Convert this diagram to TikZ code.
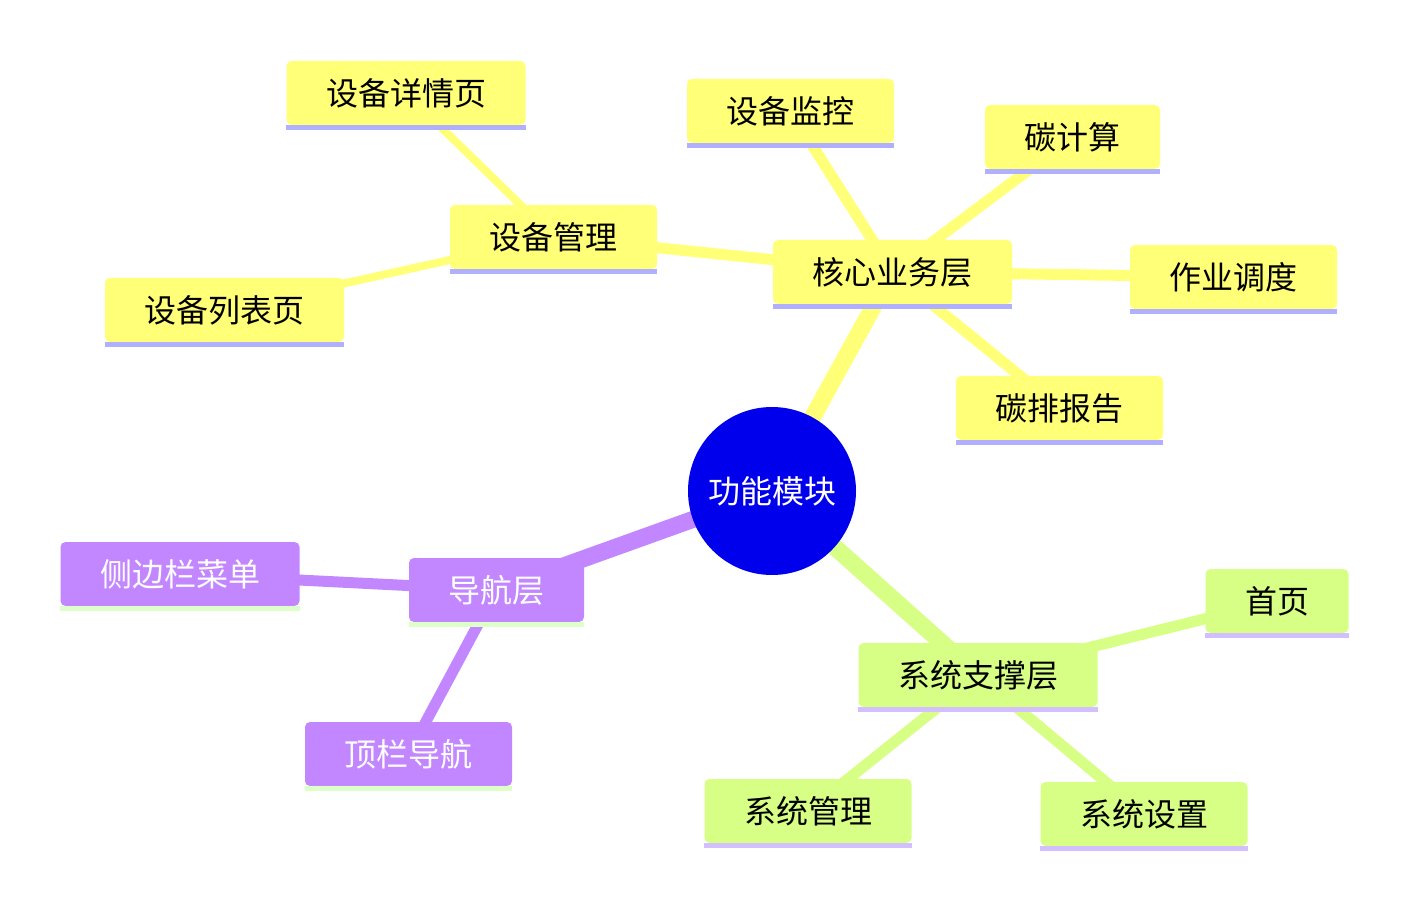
\documentclass[tikz,border=0pt]{standalone}
\usepackage{fontspec}
\setmainfont{Noto Sans CJK SC}
\usetikzlibrary{backgrounds}
\definecolor{fmblue}{HTML}{0000EC}
\definecolor{fmyellow}{HTML}{FFFF78}
\definecolor{fmyellowbar}{HTML}{B0B0FF}
\definecolor{fmgreen}{HTML}{D7FF86}
\definecolor{fmgreenbar}{HTML}{D3BEFF}
\definecolor{fmpurple}{HTML}{C286FF}
\definecolor{fmpurplebar}{HTML}{DDFFC8}
\tikzset{
  fmstage/.style={
    rounded corners=5pt,
    inner xsep=39.5pt,
    inner ysep=0pt,
    minimum height=64pt,
    font=\fontsize{32}{38}\selectfont
  },
  fmcore/.style={fmstage,fill=fmyellow,text=black},
  fmsys/.style={fmstage,fill=fmgreen,text=black},
  fmnav/.style={fmstage,fill=fmpurple,text=white},
  fmroot/.style={circle,fill=fmblue,text=white,minimum size=168pt,
                 inner sep=0pt,font=\fontsize{32}{38}\selectfont},
  fmtrunk/.style={line width=17pt},
  fmbranch/.style={line width=11pt},
  fmtwig/.style={line width=8pt}
}

\begin{document}
\begin{tikzpicture}[x=1pt,y=-1pt]
  \useasboundingbox (0,0) rectangle (1409,909);

  % centre
  \node[fmroot] (root) at (772,491) {功能模块};

  % core business section
  \node[fmcore] (core) at (892.5,272) {核心业务层};
  \node[fmcore] (devmgr) at (553.5,237) {设备管理};
  \node[fmcore] (devdetail) at (406,93) {设备详情页};
  \node[fmcore] (devlist) at (224.5,310) {设备列表页};
  \node[fmcore] (monitor) at (790.5,111) {设备监控};
  \node[fmcore] (carbon) at (1072.5,137) {碳计算};
  \node[fmcore] (sched) at (1233.5,277) {作业调度};
  \node[fmcore] (report) at (1059.5,408) {碳排报告};

  % navigation section
  \node[fmnav] (nav) at (496.5,590) {导航层};
  \node[fmnav] (sidebar) at (180,574) {侧边栏菜单};
  \node[fmnav] (topbar) at (408.5,754) {顶栏导航};

  % system support section
  \node[fmsys] (sys) at (978,675) {系统支撑层};
  \node[fmsys] (home) at (1277,601) {首页};
  \node[fmsys] (sysmgr) at (808,811) {系统管理};
  \node[fmsys] (sysset) at (1144,814) {系统设置};

  % bottom bars
  \foreach \n/\c in {core/fmyellowbar,devmgr/fmyellowbar,devdetail/fmyellowbar,
      devlist/fmyellowbar,monitor/fmyellowbar,carbon/fmyellowbar,sched/fmyellowbar,
      report/fmyellowbar,nav/fmpurplebar,sidebar/fmpurplebar,topbar/fmpurplebar,
      sys/fmgreenbar,home/fmgreenbar,sysmgr/fmgreenbar,sysset/fmgreenbar}
    \fill[\c] (\n.south west) rectangle ([yshift=-5pt]\n.south east);

  \begin{scope}[on background layer]
    \draw[fmtrunk,fmyellow] (root.center) -- (core.center);
    \draw[fmtrunk,fmpurple] (root.center) -- (nav.center);
    \draw[fmtrunk,fmgreen] (root.center) -- (sys.center);

    \draw[fmbranch,fmyellow] (core.center) -- (devmgr.center);
    \draw[fmbranch,fmyellow] (core.center) -- (monitor.center);
    \draw[fmbranch,fmyellow] (core.center) -- (carbon.center);
    \draw[fmbranch,fmyellow] (core.center) -- (sched.center);
    \draw[fmbranch,fmyellow] (core.center) -- (report.center);
    \draw[fmtwig,fmyellow] (devmgr.center) -- (devdetail.center);
    \draw[fmtwig,fmyellow] (devmgr.center) -- (devlist.center);

    \draw[fmbranch,fmpurple] (nav.center) -- (sidebar.center);
    \draw[fmbranch,fmpurple] (nav.center) -- (topbar.center);

    \draw[fmbranch,fmgreen] (sys.center) -- (home.center);
    \draw[fmbranch,fmgreen] (sys.center) -- (sysmgr.center);
    \draw[fmbranch,fmgreen] (sys.center) -- (sysset.center);
  \end{scope}
\end{tikzpicture}
\end{document}
